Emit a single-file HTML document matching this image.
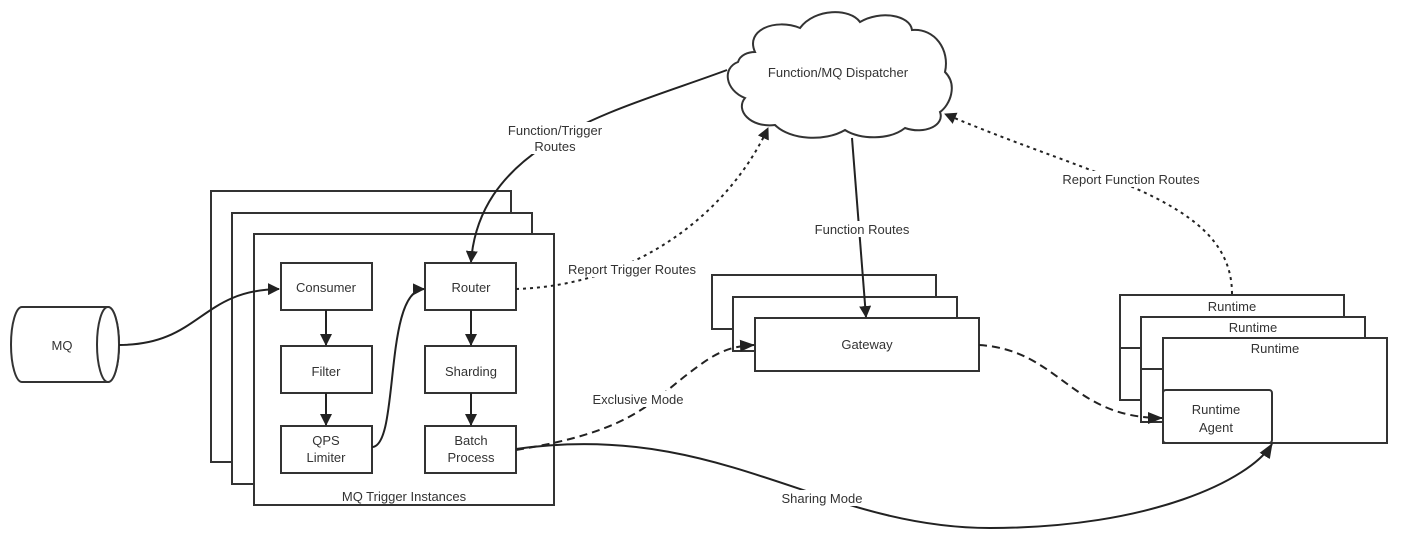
<!DOCTYPE html>
<html><head><meta charset="utf-8"><style>
html,body{margin:0;padding:0;background:#fff;}
svg{display:block;}
text{font-family:"Liberation Sans",sans-serif;font-size:13px;fill:#333;text-anchor:middle;}
</style></head><body>
<svg width="1404" height="542" viewBox="0 0 1404 542" xmlns="http://www.w3.org/2000/svg">
<defs>
<marker id="a" markerWidth="12" markerHeight="12" refX="11" refY="6" orient="auto" markerUnits="userSpaceOnUse">
<path d="M0,0 L12,6 L0,12 z" fill="#222"/></marker>
<marker id="b" markerWidth="15" markerHeight="12" refX="14" refY="6" orient="auto" markerUnits="userSpaceOnUse">
<path d="M0,0 L15,6 L0,12 z" fill="#222"/></marker>
</defs>
<g fill="#fff" stroke="#333" stroke-width="2">
<rect x="211" y="191" width="300" height="271"/>
<rect x="232" y="213" width="300" height="271"/>
<rect x="254" y="234" width="300" height="271"/>
<rect x="281" y="263" width="91" height="47"/>
<rect x="281" y="346" width="91" height="47"/>
<rect x="281" y="426" width="91" height="47"/>
<rect x="425" y="263" width="91" height="47"/>
<rect x="425" y="346" width="91" height="47"/>
<rect x="425" y="426" width="91" height="47"/>
<path d="M22,307 L108,307 A11,37.5 0 0 1 108,382 L22,382 A11,37.5 0 0 1 22,307 z"/>
<ellipse cx="108" cy="344.5" rx="11" ry="37.5"/>
<rect x="712" y="275" width="224" height="54"/>
<rect x="733" y="297" width="224" height="54"/>
<rect x="755" y="318" width="224" height="53"/>
<rect x="1120" y="295" width="224" height="105"/>
<rect x="1141" y="317" width="224" height="105"/>
<rect x="1163" y="338" width="224" height="105"/>
<line x1="1120" y1="348" x2="1141" y2="348"/>
<line x1="1141" y1="369" x2="1163" y2="369"/>
<rect x="1163" y="390" width="109" height="53" rx="3"/>
<path d="M755,52 C745,30 775,18 800,28 C815,8 850,8 860,22 C880,10 910,15 912,30 C935,28 950,50 945,72 C958,85 950,105 940,112 C945,125 925,135 905,128 C890,140 860,140 845,130 C825,142 790,140 775,125 C750,128 735,110 745,98 C725,90 722,68 738,62 C740,55 748,52 755,52 z"/>
</g>
<g fill="none" stroke="#222" stroke-width="2">
<line x1="326" y1="310" x2="326" y2="345" marker-end="url(#a)"/>
<line x1="326" y1="393" x2="326" y2="425" marker-end="url(#a)"/>
<line x1="471" y1="310" x2="471" y2="345" marker-end="url(#a)"/>
<line x1="471" y1="393" x2="471" y2="425" marker-end="url(#a)"/>
<path d="M119,345 C200,345 200,290 279,289" marker-end="url(#a)"/>
<path d="M372,447 C400,447 383,290 424,289" marker-end="url(#a)"/>
<path d="M727,70 C620,110 480,140 471,262" marker-end="url(#a)"/>
<path d="M852,138 L866,317" marker-end="url(#a)"/>
<path d="M516,450 C640,430 650,400 700,365 C720,350 735,346 754,345" stroke-dasharray="8,5" marker-end="url(#b)"/>
<path d="M979,345 C1060,350 1070,418 1162,418" stroke-dasharray="8,5" marker-end="url(#b)"/>
<path d="M516,449 C720,420 820,528 990,528 C1150,528 1250,480 1272,444" marker-end="url(#b)"/>
<path d="M516,289 C640,285 730,210 768,128" stroke-dasharray="3,4" marker-end="url(#a)"/>
<path d="M1232,294 C1232,200 1100,180 945,114" stroke-dasharray="3,4" marker-end="url(#a)"/>
</g>
<g>
<rect x="500" y="122" width="112" height="32" fill="#fff"/>
<rect x="810" y="221" width="105" height="16" fill="#fff"/>
<rect x="1053" y="171" width="156" height="16" fill="#fff"/>
<rect x="560" y="261" width="146" height="16" fill="#fff"/>
<rect x="588" y="391" width="102" height="16" fill="#fff"/>
<rect x="777" y="490" width="90" height="16" fill="#fff"/>
</g>
<text x="62" y="350">MQ</text>
<text x="326" y="292">Consumer</text>
<text x="326" y="376">Filter</text>
<text x="326" y="445">QPS</text>
<text x="326" y="462">Limiter</text>
<text x="471" y="292">Router</text>
<text x="471" y="376">Sharding</text>
<text x="471" y="445">Batch</text>
<text x="471" y="462">Process</text>
<text x="404" y="501">MQ Trigger Instances</text>
<text x="867" y="349">Gateway</text>
<text x="1232" y="311">Runtime</text>
<text x="1253" y="332">Runtime</text>
<text x="1275" y="353">Runtime</text>
<text x="1216" y="414">Runtime</text>
<text x="1216" y="432">Agent</text>
<text x="838" y="77">Function/MQ Dispatcher</text>
<text x="555" y="135">Function/Trigger</text>
<text x="555" y="151">Routes</text>
<text x="862" y="234">Function Routes</text>
<text x="1131" y="184">Report Function Routes</text>
<text x="632" y="274">Report Trigger Routes</text>
<text x="638" y="404">Exclusive Mode</text>
<text x="822" y="503">Sharing Mode</text>
</svg>
</body></html>
